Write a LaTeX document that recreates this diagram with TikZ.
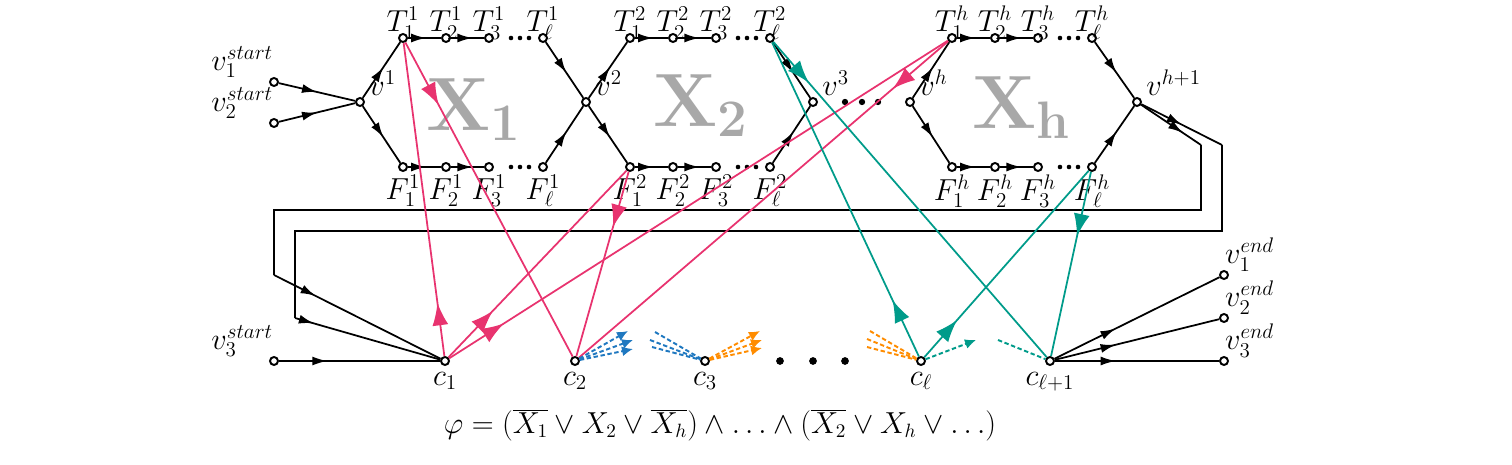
\documentclass[tikz,border=0pt]{standalone}
\usetikzlibrary{arrows.meta,decorations.markings}
\definecolor{pk}{HTML}{E8336F}
\definecolor{tl}{HTML}{009B8A}
\definecolor{bl}{HTML}{1F78C0}
\definecolor{og}{HTML}{FF8C00}
\definecolor{gx}{HTML}{A8A8A8}
\newcommand{\bigX}[1]{\fontsize{43}{43}\selectfont\bfseries X\raisebox{-0.3ex}{\fontsize{30}{30}\selectfont #1}}
\begin{document}
\begin{tikzpicture}[x=0.02cm,y=-0.02cm,font=\fontsize{18}{21}\selectfont,
  vx/.style={circle,draw,fill=white,line width=1.1pt,inner sep=0pt,minimum size=0.16cm},
  ed/.style={line width=1pt},
  marr/.style={postaction={decorate},decoration={markings,mark=at position #1 with {\arrow{Latex[length=3mm,width=1.8mm]}}}},
  carr/.style={postaction={decorate},decoration={markings,mark=at position #1 with {\arrow{Latex[length=4.5mm,width=3.2mm]}}}},
  cl/.style={line width=1pt},
  dsh/.style={line width=1.1pt,dashed,dash pattern=on 2.5pt off 1.5pt,-{Latex[length=2.2mm,width=2mm]}},
  dsn/.style={line width=1.1pt,dashed,dash pattern=on 2.5pt off 1.5pt},
  big/.style={text=gx,inner sep=0pt}]
\useasboundingbox (0,0) rectangle (1512,465);
% nodes
\node[vx,label={[label distance=-6pt]160:$v^{start}_1$}] (s1) at (274,82) {};
\node[vx,label={[label distance=-6pt]160:$v^{start}_2$}] (s2) at (274,123) {};
\node[vx,label={[label distance=-6pt]160:$v^{start}_3$}] (s3) at (274,361) {};
\node[vx,label={[label distance=-1pt]10:$v^1$}] (v1) at (360,102) {};
\node[vx,label={[label distance=-1pt]10:$v^2$}] (v2) at (586,102) {};
\node[vx,label={[label distance=-1pt]10:$v^3$}] (v3) at (813,102) {};
\node[vx,label={[label distance=-1pt]10:$v^h$}] (vh) at (910,102) {};
\node[vx,label={[label distance=-1pt]10:$v^{h+1}$}] (vh1) at (1137,102) {};
\foreach \g/\gx/\s in {a/403/1,b/630/2,c/952/h}{
  \foreach \i/\dx/\lab in {1/0/1,2/43/2,3/86/3,l/140/\ell}{
    \node[vx,label={[label distance=-7pt]90:$T^{\s}_{\lab}$}] (T\g\i) at (\gx+\dx,38) {};
    \node[vx,label={[label distance=-2pt]-90:$F^{\s}_{\lab}$}] (F\g\i) at (\gx+\dx,167) {};
  }
  \foreach \d in {108,117,126}{
    \fill (\gx+\d,38) circle (1.3pt);
    \fill (\gx+\d,167) circle (1.3pt);
  }
}
\node[big] (X1) at (473,110) {\bigX{1}};
\node[big] (X2) at (700,106) {\bigX{2}};
\node[big] (Xh) at (1021,108) {\bigX{h}};
\foreach \x in {845,862,878} \fill (\x,102) circle (1.8pt);
\node[vx,label={[label distance=0pt]-90:$c_1$}] (c1) at (445,361) {};
\node[vx,label={[label distance=0pt]-90:$c_2$}] (c2) at (575,361) {};
\node[vx,label={[label distance=0pt]-90:$c_3$}] (c3) at (705,361) {};
\node[vx,label={[label distance=0pt]-90:$c_\ell$}] (cl) at (921,361) {};
\node[vx,label={[label distance=0pt]-90:$c_{\ell+1}$}] (cl1) at (1050,361) {};
\foreach \x in {780,813,845} \fill (\x,361) circle (2.2pt);
\node[vx,label={[label distance=-6pt]25:$v^{end}_1$}] (e1) at (1224,275) {};
\node[vx,label={[label distance=-6pt]25:$v^{end}_2$}] (e2) at (1224,318) {};
\node[vx,label={[label distance=-6pt]25:$v^{end}_3$}] (e3) at (1224,361) {};
\node[font=\fontsize{16}{19}\selectfont] (phi) at (720,425) {$\varphi=(\overline{X_1}\vee X_2\vee\overline{X_h})\wedge\ldots\wedge(\overline{X_2}\vee X_h\vee\ldots)$};
% black edges
\draw[ed,marr=0.5] (s1)--(v1);
\draw[ed,marr=0.5] (s2)--(v1);
\draw[ed,marr=0.3] (s3)--(c1);
\foreach \g/\v/\w in {a/v1/v2,b/v2/v3,c/vh/vh1}{
  \draw[ed,marr=0.55] (\v)--(T\g1);
  \draw[ed,marr=0.55] (\v)--(F\g1);
  \draw[ed,marr=0.55] (T\g1)--(T\g2);
  \draw[ed,marr=0.65] (T\g2)--(T\g3);
  \draw[ed,marr=0.55] (F\g1)--(F\g2);
  \draw[ed,marr=0.65] (F\g2)--(F\g3);
  \draw[ed,marr=0.55] (T\g l)--(\w);
  \draw[ed,marr=0.55] (F\g l)--(\w);
}
\coordinate (p1) at (1201,145); \coordinate (p2) at (1201,210);
\coordinate (p3) at (274,210); \coordinate (p4) at (274,275);
\coordinate (q1) at (1222,145); \coordinate (q2) at (1222,231);
\coordinate (q3) at (295,231); \coordinate (q4) at (295,318);
\draw[ed,marr=0.7] (vh1)--(p1);
\draw[ed] (p1)--(p2)--(p3)--(p4);
\draw[ed,marr=0.25] (p4)--(c1);
\draw[ed,marr=0.5] (vh1)--(q1);
\draw[ed] (q1)--(q2)--(q3)--(q4);
\draw[ed,marr=0.13] (q4)--(c1);
\draw[ed,marr=0.37] (cl1)--(e1);
\draw[ed,marr=0.37] (cl1)--(e2);
\draw[ed,marr=0.37] (cl1)--(e3);
% pink
\draw[cl,pk,carr=0.2] (Ta1)--(c2);
\draw[cl,pk,carr=0.17] (c1)--(Ta1);
\draw[cl,pk,carr=0.25] (c1)--(Fb1);
\draw[cl,pk,carr=0.11] (c1)--(Tc1);
\draw[cl,pk,carr=0.3] (Fb1)--(c2);
\draw[cl,pk,carr=0.15] (Tc1)--(c2);
% teal
\draw[cl,tl,carr=0.18] (cl)--(Tbl);
\draw[cl,tl,carr=0.13] (Tbl)--(cl1);
\draw[cl,tl,carr=0.2] (cl)--(Fcl);
\draw[cl,tl,carr=0.35] (Fcl)--(cl1);
% dashed
\coordinate (b1) at (628,331); \coordinate (b2) at (633,340); \coordinate (b3) at (633,349);
\draw[dsh,bl] (c2)--(b1); \draw[dsh,bl] (c2)--(b2); \draw[dsh,bl] (c2)--(b3);
\coordinate (b4) at (655,332); \coordinate (b5) at (650,340); \coordinate (b6) at (652,347);
\draw[dsn,bl] (b4)--(c3); \draw[dsn,bl] (b5)--(c3); \draw[dsn,bl] (b6)--(c3);
\coordinate (o1) at (760,331); \coordinate (o2) at (762,340); \coordinate (o3) at (762,348);
\draw[dsh,og] (c3)--(o1); \draw[dsh,og] (c3)--(o2); \draw[dsh,og] (c3)--(o3);
\coordinate (o4) at (870,331); \coordinate (o5) at (867,339); \coordinate (o6) at (867,347);
\draw[dsn,og] (o4)--(cl); \draw[dsn,og] (o5)--(cl); \draw[dsn,og] (o6)--(cl);
\coordinate (t1) at (976,340); \coordinate (t2) at (998,340);
\draw[dsh,tl] (cl)--(t1);
\draw[dsn,tl] (t2)--(cl1);
\end{tikzpicture}
\end{document}
